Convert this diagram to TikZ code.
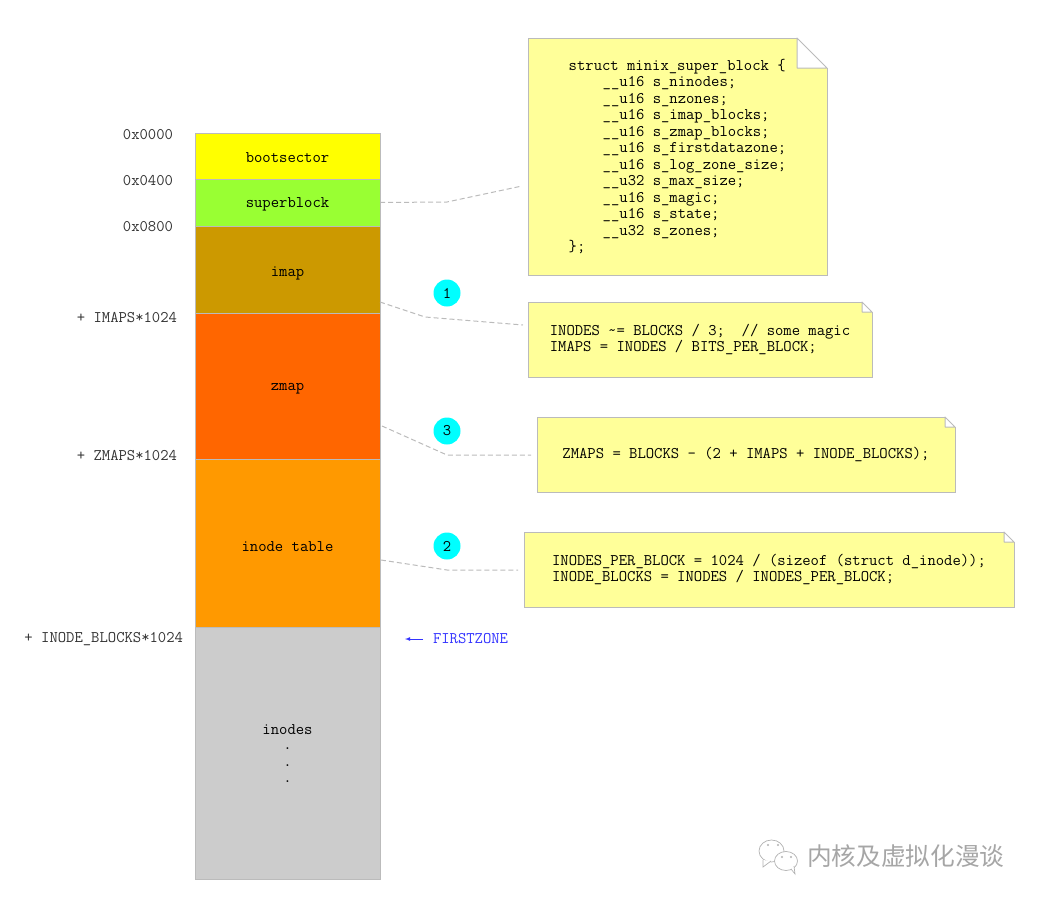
\documentclass[tikz,border=0pt]{standalone}
\usepackage{fontspec}
\usepackage{tikz}
\newfontfamily\cjk{Noto Sans CJK SC}
\newcommand{\codefont}{\ttfamily\fontsize{16.2}{16.45}\selectfont}
\newcommand{\ind}{\hspace*{34pt}}
\newcommand{\lowertext}[2]{\raisebox{-#1pt}[\height][\depth]{#2}}
\newcommand{\foldcorner}[2]{%
  \fill[white] ([xshift=-#2 pt,yshift=1pt]#1.north east) rectangle ([xshift=1pt,yshift=-#2 pt]#1.north east);
  \draw[edgeline, line join=round] ([xshift=-#2 pt]#1.north east) -- ([yshift=-#2 pt]#1.north east)
    -- ([xshift=-#2 pt,yshift=-#2 pt]#1.north east) -- cycle;
}
\definecolor{edgegray}{HTML}{BBBBBB}
\definecolor{noteyellow}{HTML}{FFFF99}
\definecolor{bootyellow}{HTML}{FFFF00}
\definecolor{superlime}{HTML}{99FF33}
\definecolor{imapbrown}{HTML}{CC9900}
\definecolor{zmaporange}{HTML}{FF6600}
\definecolor{inodeorange}{HTML}{FF9900}
\definecolor{inodesgray}{HTML}{CCCCCC}
\definecolor{markcyan}{HTML}{00FFFF}
\definecolor{zoneblue}{HTML}{3333FF}
\tikzset{
  every node/.style={font=\codefont, inner sep=0pt, outer sep=0pt},
  edgeline/.style={draw=edgegray, line width=1pt},
  blockbox/.style={edgeline, minimum width=185pt, align=center},
  notebox/.style={edgeline, fill=noteyellow, align=left},
  offsetlabel/.style={anchor=east, text=black!80},
  marker/.style={circle, fill=markcyan, minimum size=27pt},
  leader/.style={draw=edgegray, line width=1pt, dash pattern=on 5pt off 3pt},
}

\begin{document}
\begin{tikzpicture}[x=1pt, y=-1pt]
    \useasboundingbox (0,0) rectangle (1039,902);
    % The blocks of the disk, top to bottom
    \node[blockbox, fill=bootyellow, minimum height=46pt] (bootsector) at (287.5,156) {\lowertext{2}{bootsector}};
    \node[blockbox, fill=superlime, minimum height=47pt] (superblock) at (287.5,202.5) {\lowertext{2}{superblock}};
    \node[blockbox, fill=imapbrown, minimum height=87pt] (imap) at (287.5,269.5) {\lowertext{4}{imap}};
    \node[blockbox, fill=zmaporange, minimum height=146pt] (zmap) at (287.5,386) {\lowertext{3}{zmap}};
    \node[blockbox, fill=inodeorange, minimum height=168pt] (inodetable) at (287.5,543) {\lowertext{4}{inode table}};
    \node[blockbox, fill=inodesgray, minimum height=252pt] (inodes) at (287.5,753) {\lowertext{1}{inodes}\\[0.5pt].\\.\\.};
    % Offsets on the left
    \node[offsetlabel] (off0) at (173,135) {0x0000};
    \node[offsetlabel] (off1) at (173,181) {0x0400};
    \node[offsetlabel] (off2) at (173,227) {0x0800};
    \node[offsetlabel] (off3) at (177,318) {+ IMAPS*1024};
    \node[offsetlabel] (off4) at (177,456) {+ ZMAPS*1024};
    \node[offsetlabel] (off5) at (183,639) {+ INODE\_BLOCKS*1024};
    % Notes
    \node[notebox, minimum width=299pt, minimum height=237pt] (supernote) at (677.5,156.5) {%
      struct minix\_super\_block \{\\
      \ind \_\_u16 s\_ninodes;\\
      \ind \_\_u16 s\_nzones;\\
      \ind \_\_u16 s\_imap\_blocks;\\
      \ind \_\_u16 s\_zmap\_blocks;\\
      \ind \_\_u16 s\_firstdatazone;\\
      \ind \_\_u16 s\_log\_zone\_size;\\
      \ind \_\_u32 s\_max\_size;\\
      \ind \_\_u16 s\_magic;\\
      \ind \_\_u16 s\_state;\\
      \ind \_\_u32 s\_zones;\\
      \};};
    \foldcorner{supernote}{30}
    \node[notebox, minimum width=344pt, minimum height=75pt] (imapnote) at (700,339.5) {%
      INODES \textasciitilde= BLOCKS / 3;\ \ // some magic\\[0.5pt]
      IMAPS = INODES / BITS\_PER\_BLOCK;};
    \foldcorner{imapnote}{10}
    \node[notebox, minimum width=418pt, minimum height=75pt] (zmapnote) at (746,454.5) {%
      ZMAPS = BLOCKS - (2 + IMAPS + INODE\_BLOCKS);};
    \foldcorner{zmapnote}{10}
    \node[notebox, minimum width=490pt, minimum height=75pt] (inodenote) at (769,569.5) {%
      INODES\_PER\_BLOCK = 1024 / (sizeof (struct d\_inode));\\[0.5pt]
      INODE\_BLOCKS = INODES / INODES\_PER\_BLOCK;};
    \foldcorner{inodenote}{10}
    % Numbered markers
    \node[marker] (mark1) at (447,293) {1};
    \node[marker] (mark3) at (447,431) {3};
    \node[marker] (mark2) at (447,546) {2};
    % Leaders from the blocks towards the notes
    \coordinate (superbend) at (447,202);
    \coordinate (superend) at (522,186);
    \coordinate (imapstart) at (380,302);
    \coordinate (imapbend) at (425,317);
    \coordinate (imapend) at (523,325);
    \coordinate (zmapstart) at (382,426);
    \coordinate (zmapbend) at (447,455);
    \coordinate (zmapend) at (531,455);
    \coordinate (inodestart) at (381,560);
    \coordinate (inodebend) at (447,570);
    \coordinate (inodeend) at (518,570);
    \draw[leader] (superblock.east) -- (superbend) -- (superend);
    \draw[leader] (imapstart) -- (imapbend) -- (imapend);
    \draw[leader] (zmapstart) -- (zmapbend) -- (zmapend);
    \draw[leader] (inodestart) -- (inodebend) -- (inodeend);
    % First data zone
    \node[anchor=west, inner xsep=10pt, text=zoneblue] (firstzone) at (423,639) {FIRSTZONE};
    \coordinate (zonetip) at (405,639);
    \draw[->, >=latex, zoneblue, line width=0.8pt] (firstzone.west) -- (zonetip);
    % Watermark
    \draw[gray!60, fill=white, line width=0.7pt] (771.5,851) ellipse (12.5pt and 11pt);
    \draw[gray!60, fill=white, line width=0.7pt] (763,860) -- (763,867) -- (771,861);
    \draw[gray!60, fill=white, line width=0.7pt] (786,861) ellipse (11.5pt and 9.5pt);
    \draw[gray!60, fill=white, line width=0.7pt] (791,869) -- (795,874) -- (794,866);
    \foreach \px/\py in {768/845,778/845,782/857,791/857}
      \fill[gray!60] (\px,\py) circle (1.1pt);
    \node[anchor=west, text=gray!70] (watermark) at (807,856) {\cjk\fontsize{24.7}{26}\selectfont 内核及虚拟化漫谈};
\end{tikzpicture}
\end{document}
